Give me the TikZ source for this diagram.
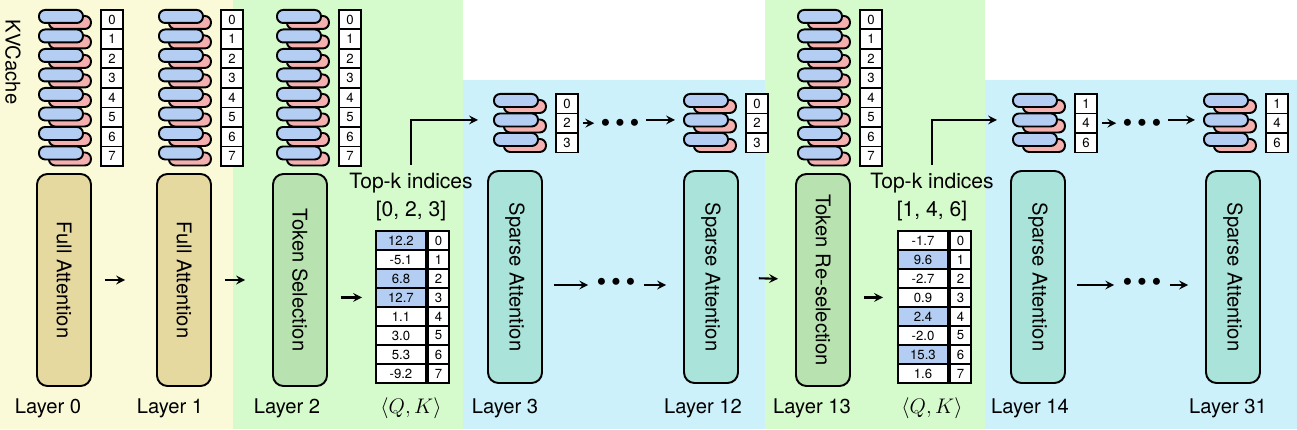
\documentclass[tikz,border=0pt]{standalone}
\usepackage{fontspec}
\setmainfont{TeX Gyre Heros}
\usetikzlibrary{positioning}

\definecolor{yellowbg}{HTML}{FAFAD9}
\definecolor{greenbg}{HTML}{D5FACB}
\definecolor{cyanbg}{HTML}{CCF1FB}
\definecolor{keyblue}{HTML}{B4CDF2}
\definecolor{valpink}{HTML}{F4AFAF}
\definecolor{fullfill}{HTML}{E5D9A0}
\definecolor{selfill}{HTML}{B8E3B0}
\definecolor{sparsefill}{HTML}{A9E3DA}

\newcommand{\pu}{0.02cm}

\tikzset{
  pill/.style={draw, line width=1.1pt, rounded corners=3.5pt, minimum width=44*\pu,
    minimum height=13*\pu, inner sep=0pt},
  kkey/.style={pill, fill=keyblue},
  vval/.style={pill, fill=valpink, minimum width=42*\pu},
  idx/.style={draw, line width=1.1pt, fill=white, minimum width=22*\pu,
    minimum height=19.5*\pu, inner sep=0pt, font=\fontsize{7.5}{8}\selectfont},
  cell/.style={draw, line width=1.1pt, minimum width=50*\pu, minimum height=19*\pu,
    inner sep=0pt, font=\fontsize{7.5}{8}\selectfont},
  val/.style={cell, fill=white},
  sel/.style={cell, fill=keyblue},
  attn/.style={draw, line width=1.1pt, rounded corners=6pt, minimum width=54*\pu,
    minimum height=212*\pu, inner sep=0pt, font=\fontsize{11.5}{12}\selectfont},
  layer/.style={font=\fontsize{11.5}{12}\selectfont},
  dots/.style={inner sep=0pt, font=\fontsize{16}{16}\selectfont},
  flow/.style={->, line width=1.2pt, >=stealth},
  gap/.style 2 args={shorten <=#1*\pu, shorten >=#2*\pu}
}

% KV cache stack: name, x, y, indices
\newcommand{\kvstack}[4]{%
  \foreach \k [count=\j from 0] in {#4} {
    \node[vval, anchor=north west] (#1v\j) at (#2+10, #3+\j*19.5+6) {};
  }
  \foreach \k [count=\j from 0] in {#4} {
    \node[kkey, anchor=north west] (#1k\j) at (#2, #3+\j*19.5) {};
    \node[idx, anchor=north west] (#1i\j) at (#2+62, #3+\j*19.5) {\k};
  }
}

% score table: name, x, list of value/style
\newcommand{\scoretable}[3]{%
  \foreach \v/\s [count=\j from 0] in {#3} {
    \node[\s, anchor=north west] (#1s\j) at (#2, 230+\j*19) {\v};
    \node[idx, minimum height=19*\pu, minimum width=21*\pu, anchor=north west]
      (#1n\j) at (#2+52, 230+\j*19) {\j};
  }
}

\begin{document}
\begin{tikzpicture}[x=0.02cm, y=-0.02cm]
  \useasboundingbox (0,0) rectangle (1297,429);

  % backgrounds
  \fill[yellowbg] (0,0) rectangle (233,429);
  \fill[greenbg] (233,0) rectangle (463,429);
  \fill[cyanbg] (463,80) rectangle (765,429);
  \fill[greenbg] (765,0) rectangle (985,429);
  \fill[cyanbg] (985,80) rectangle (1297,429);

  \node[rotate=-90, font=\fontsize{11.5}{12}\selectfont] (kvc) at (13,62) {KVCache};

  % KV caches
  \kvstack{c0}{38}{9}{0,1,2,3,4,5,6,7}
  \kvstack{c1}{158}{9}{0,1,2,3,4,5,6,7}
  \kvstack{c2}{276}{9}{0,1,2,3,4,5,6,7}
  \kvstack{c13}{797}{9}{0,1,2,3,4,5,6,7}
  \kvstack{c3}{493}{93}{0,2,3}
  \kvstack{c12}{683}{93}{0,2,3}
  \kvstack{c14}{1012}{93}{1,4,6}
  \kvstack{c31}{1203}{93}{1,4,6}

  % layers
  \node[attn, fill=fullfill] (l0) at (64,280) {\rotatebox{-90}{Full Attention}};
  \node[attn, fill=fullfill] (l1) at (184,280) {\rotatebox{-90}{Full Attention}};
  \node[attn, fill=selfill] (l2) at (300,280) {\rotatebox{-90}{Token Selection}};
  \node[attn, fill=sparsefill] (l3) at (515,277) {\rotatebox{-90}{Sparse Attention}};
  \node[attn, fill=sparsefill] (l12) at (711,277) {\rotatebox{-90}{Sparse Attention}};
  \node[attn, fill=selfill] (l13) at (823,280) {\rotatebox{-90}{Token Re-selection}};
  \node[attn, fill=sparsefill] (l14) at (1038,277) {\rotatebox{-90}{Sparse Attention}};
  \node[attn, fill=sparsefill] (l31) at (1233,277) {\rotatebox{-90}{Sparse Attention}};

  % scores
  \scoretable{q2}{375}{12.2/sel,-5.1/val,6.8/sel,12.7/sel,1.1/val,3.0/val,5.3/val,-9.2/val}
  \scoretable{q13}{897}{-1.7/val,9.6/sel,-2.7/val,0.9/val,2.4/sel,-2.0/val,15.3/sel,1.6/val}

  \node[font=\fontsize{12}{13}\selectfont] (tk2) at (411,183) {Top-k indices};
  \node[font=\fontsize{12}{13}\selectfont] (ix2) at (411,211) {[0, 2, 3]};
  \node[font=\fontsize{12}{13}\selectfont] (tk13) at (932,183) {Top-k indices};
  \node[font=\fontsize{12}{13}\selectfont] (ix13) at (932,211) {[1, 4, 6]};

  % dots
  \node[dots] (d3) at (616,285) {\textbullet\,\textbullet\,\textbullet};
  \node[dots] (d14) at (1142,285) {\textbullet\,\textbullet\,\textbullet};
  \node[dots] (e3) at (620,126) {\textbullet\,\textbullet\,\textbullet};
  \node[dots] (e14) at (1142,126) {\textbullet\,\textbullet\,\textbullet};

  % flow between layers
  \draw[flow, gap={13}{31}] (l0) -- (l1);
  \draw[flow, gap={13}{27}] (l1) -- (l2);
  \draw[flow, gap={13}{13}] (l2.east|-q2s3.west) -- (q2s3.west);
  \draw[flow, gap={11}{8}] (l3.east|-d3.west) -- (d3.west);
  \draw[flow, gap={8}{17}] (d3.east) -- (d3.east-|l12.west);
  \draw[flow, gap={20}{17}] (l12) -- (l13);
  \draw[flow, gap={13}{14}] (l13.east|-q13s3.west) -- (q13s3.west);
  \draw[flow, gap={11}{8}] (l14.east|-d14.west) -- (d14.west);
  \draw[flow, gap={8}{17}] (d14.east) -- (d14.east-|l31.west);

  % top-k selection
  \draw[flow, gap={2}{15}] (tk2.north) |- (c3k1.west);
  \draw[flow, gap={2}{15}] (tk13.north) |- (c14k1.west);
  \draw[flow, gap={4}{6}] (c3i1.east) -- (c3i1.east-|e3.west);
  \draw[flow, gap={6}{8}] (c12k1.west-|e3.east) -- (c12k1.west);
  \draw[flow, gap={4}{6}] (c14i1.east) -- (c14i1.east-|e14.west);
  \draw[flow, gap={6}{8}] (c31k1.west-|e14.east) -- (c31k1.west);

  % labels
  \node[layer] (n0) at (48,408) {Layer 0};
  \node[layer] (n1) at (170,408) {Layer 1};
  \node[layer] (n2) at (287,408) {Layer 2};
  \node[layer] (n2q) at (411,408) {$\langle Q, K\rangle$};
  \node[layer] (n3) at (505,408) {Layer 3};
  \node[layer] (n12) at (703,408) {Layer 12};
  \node[layer] (n13) at (812,408) {Layer 13};
  \node[layer] (n13q) at (932,408) {$\langle Q, K\rangle$};
  \node[layer] (n14) at (1030,408) {Layer 14};
  \node[layer] (n31) at (1228,408) {Layer 31};
\end{tikzpicture}
\end{document}
